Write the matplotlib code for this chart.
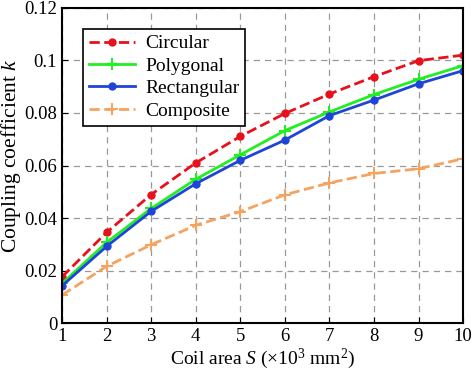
import numpy as np
import matplotlib
matplotlib.use('Agg')
import matplotlib.pyplot as plt

plt.rcParams['font.family'] = ['Liberation Serif', 'DejaVu Serif']
plt.rcParams['mathtext.fontset'] = 'custom'
plt.rcParams['mathtext.it'] = 'Liberation Serif:italic'
plt.rcParams['mathtext.rm'] = 'Liberation Serif'

S = [1, 2, 3, 4, 5, 6, 7, 8, 9, 10]
circular = [0.0177, 0.0346, 0.049, 0.061, 0.0711, 0.0798, 0.0872, 0.0938, 0.0999, 0.102]
polygonal = [0.0152, 0.0308, 0.0437, 0.0548, 0.0641, 0.0733, 0.0804, 0.087, 0.0928, 0.098]
rectangular = [0.0143, 0.0293, 0.0426, 0.0531, 0.062, 0.0697, 0.079, 0.0849, 0.0911, 0.0961]
composite = [0.0108, 0.0217, 0.0299, 0.0373, 0.0425, 0.0489, 0.0534, 0.057, 0.0588, 0.0626]

fig = plt.figure(figsize=(4.74, 3.7), dpi=100)
ax = fig.add_axes([0.131, 0.126, 0.846, 0.853])

ax.plot(S, circular, '--', color='#e8101a', lw=2, marker='o', ms=5, label='Circular')
ax.plot(S, polygonal, '-', color='#22ee22', lw=2, marker='+', ms=9, mew=1.5, label='Polygonal')
ax.plot(S, rectangular, '-', color='#1f45d8', lw=2, marker='o', ms=5, label='Rectangular')
ax.plot(S, composite, '--', color='#f4a460', lw=2, marker='+', ms=9, mew=1.5, label='Composite')

ax.set_xlim(1, 10)
ax.set_ylim(0, 0.12)
ax.set_xticks(S)
ax.set_yticks([0, 0.02, 0.04, 0.06, 0.08, 0.1, 0.12])
ax.set_yticklabels(['0', '0.02', '0.04', '0.06', '0.08', '0.1', '0.12'])
ax.grid(True, ls=(0, (5, 4)), color='#999999', lw=0.9)
ax.tick_params(direction='in', labelsize=13.5, length=4)
for sp in ax.spines.values():
    sp.set_linewidth(1.5)

ax.set_xlabel(r'Coil area $S$ ($\times$10$^3$ mm$^2$)', fontsize=14, labelpad=1)
ax.set_ylabel(r'Coupling coefficient $k$', fontsize=15.5)
ax.yaxis.set_label_coords(-0.098, 0.53)

leg = ax.legend(loc='upper left', bbox_to_anchor=(0.052, 0.933), borderaxespad=0, fontsize=14,
                fancybox=False, edgecolor='black', framealpha=1, handlelength=2.4, borderpad=0.3,
                labelspacing=0.25, handletextpad=0.5)
leg.get_frame().set_linewidth(1.2)

plt.savefig('out.png', dpi=100)
